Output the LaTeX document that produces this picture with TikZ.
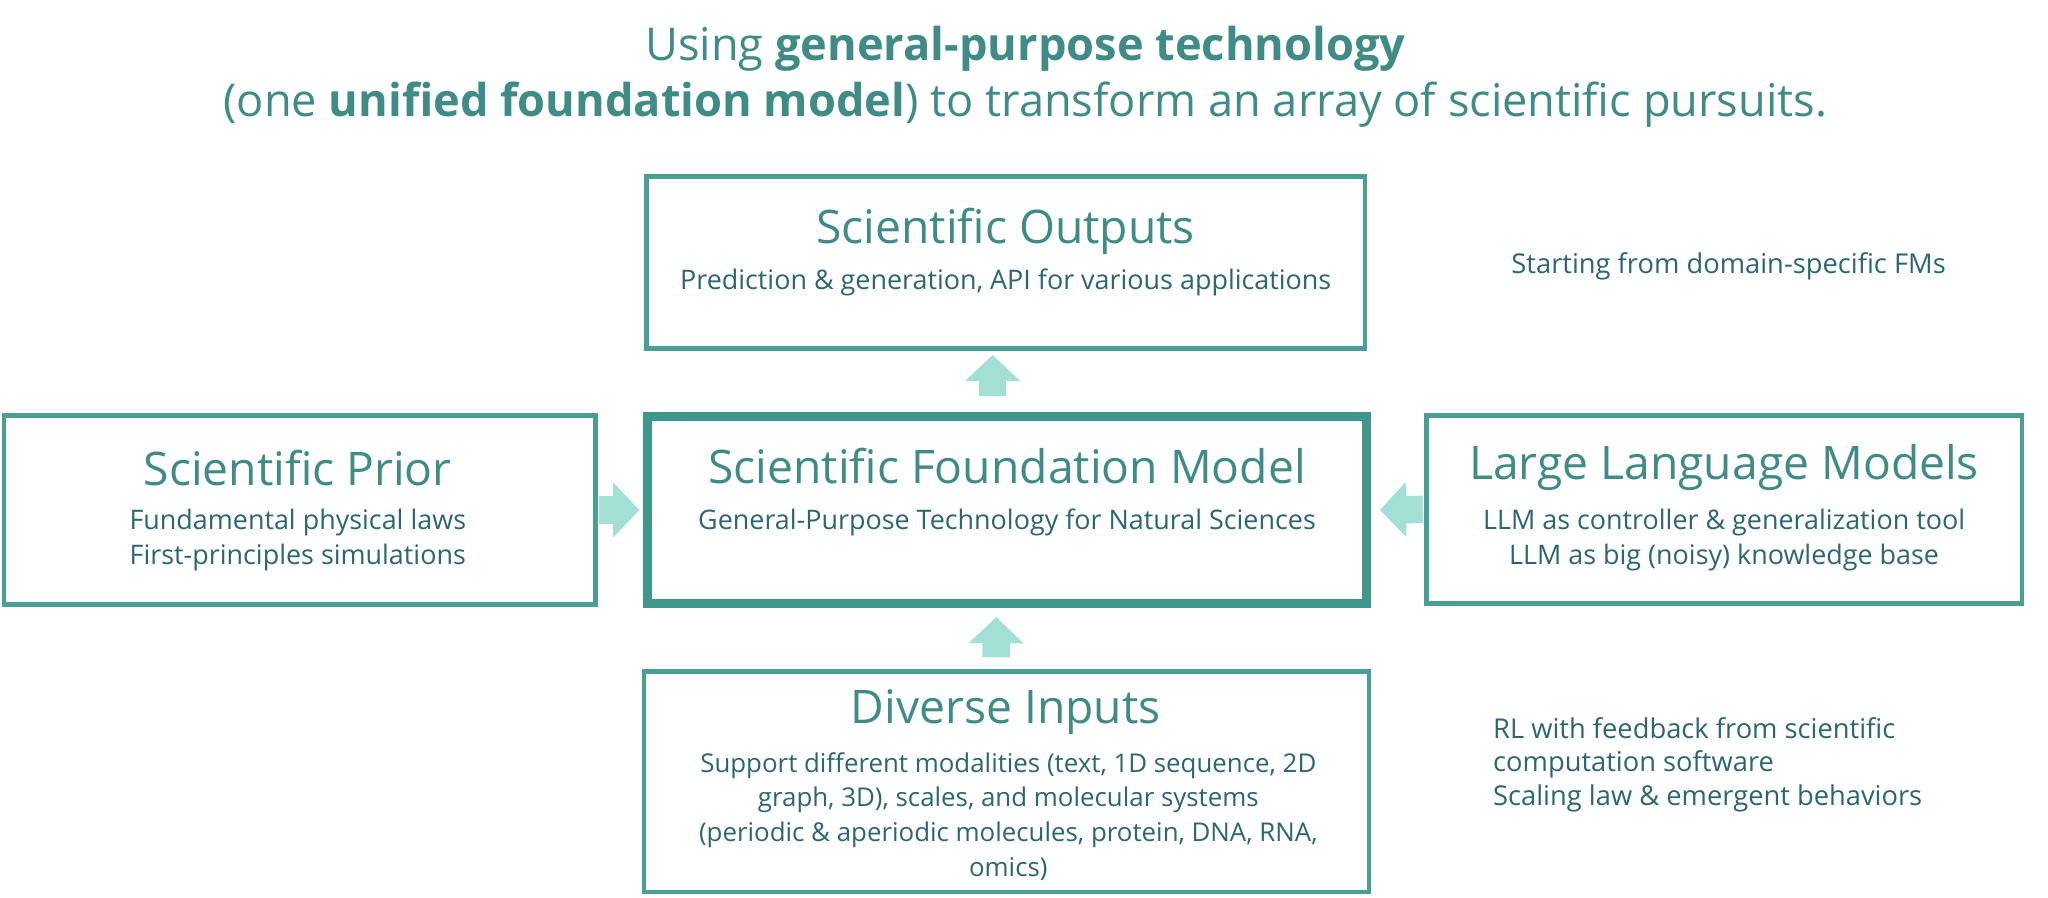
\documentclass[tikz,border=0pt]{standalone}
\usepackage{fontspec}
\setmainfont{Open Sans}
\usetikzlibrary{arrows.meta}
\definecolor{boxline}{HTML}{4A9E98}
\definecolor{boxlinedark}{HTML}{3F968D}
\definecolor{titlecol}{HTML}{3F8C86}
\definecolor{subcol}{HTML}{2D6670}
\definecolor{arrowfill}{HTML}{A2E0D5}
\tikzset{
  box/.style={draw=boxline, line width=3.5pt, inner sep=0pt, fill=white},
  mainbox/.style={draw=boxlinedark, line width=7pt, inner sep=0pt, fill=white},
  boxtitle/.style={text=titlecol, font=\fontsize{35.4}{42}\selectfont, inner sep=0pt},
  boxsub/.style={text=subcol, font=\fontsize{20.6}{27}\selectfont, align=center, inner sep=0pt},
  sidenote/.style={text=subcol, font=\fontsize{20.9}{25.5}\selectfont, align=left, inner sep=0pt, anchor=west},
  toptitle/.style={text=titlecol, font=\fontsize{34.6}{43}\selectfont, inner sep=0pt},
  blockarrow/.style={draw=arrowfill, line width=21pt, -{Triangle[width=41pt,length=20pt]}}
}
\begin{document}
\begin{tikzpicture}[x=1pt,y=1pt]
\useasboundingbox (0,0) rectangle (1568,687.5);
% boxes
\node[box, minimum width=550, minimum height=132] (out) at (770,486.5) {};
\node[box, minimum width=453, minimum height=145] (prior) at (229.5,297) {};
\node[mainbox, minimum width=550, minimum height=143] (sfm) at (771,297) {};
\node[box, minimum width=456, minimum height=144] (llm) at (1320,297.5) {};
\node[box, minimum width=555, minimum height=169] (inp) at (770.5,89) {};
% title
\node[toptitle] (t1) at (785,650.5) {Using \textbf{general-purpose technology}};
\node[toptitle] (t2) at (785,607.5) {(one \textbf{unified foundation model}) to transform an array of scientific pursuits.};
% box texts
\node[boxtitle] (outT) at (770,510.5) {Scientific Outputs};
\node[boxsub] (outS) at (770,471.5) {Prediction \& generation, API for various applications};
\node[boxtitle] (priorT) at (228,329.5) {Scientific Prior};
\node[boxsub] (priorS) at (228,274) {Fundamental physical laws\\First-principles simulations};
\node[boxtitle] (sfmT) at (771,330.5) {Scientific Foundation Model};
\node[boxsub] (sfmS) at (771,287.5) {General-Purpose Technology for Natural Sciences};
\node[boxtitle] (llmT) at (1320,329.5) {Large Language Models};
\node[boxsub] (llmS) at (1320,274) {LLM as controller \& generalization tool\\LLM as big (noisy) knowledge base};
\node[boxtitle] (inpT) at (770,142.5) {Diverse Inputs};
\node[boxsub, font=\fontsize{19.8}{26.5}\selectfont] (inpS) at (772,62.5) {Support different modalities (text, 1D sequence, 2D\\graph, 3D), scales, and molecular systems\\(periodic \& aperiodic molecules, protein, DNA, RNA,\\omics)};
% side notes
\node[sidenote] (n1) at (1157,483.5) {Starting from domain-specific FMs};
\node[sidenote] (n2) at (1143,102) {RL with feedback from scientific\\computation software\\Scaling law \& emergent behaviors};
% arrows
\draw[blockarrow, shorten <=12pt, shorten >=3pt] ([xshift=-11pt]sfm.north) -- ([xshift=-10pt]out.south);
\draw[blockarrow, shorten <=9pt, shorten >=7pt] ([xshift=-8pt]inp.north) -- ([xshift=-8pt]sfm.south);
\draw[blockarrow, shorten <=1pt, shorten >=3pt] (prior.east) -- (sfm.west);
\draw[blockarrow, shorten <=1pt, shorten >=7pt] (llm.west) -- (sfm.east);
\end{tikzpicture}
\end{document}
